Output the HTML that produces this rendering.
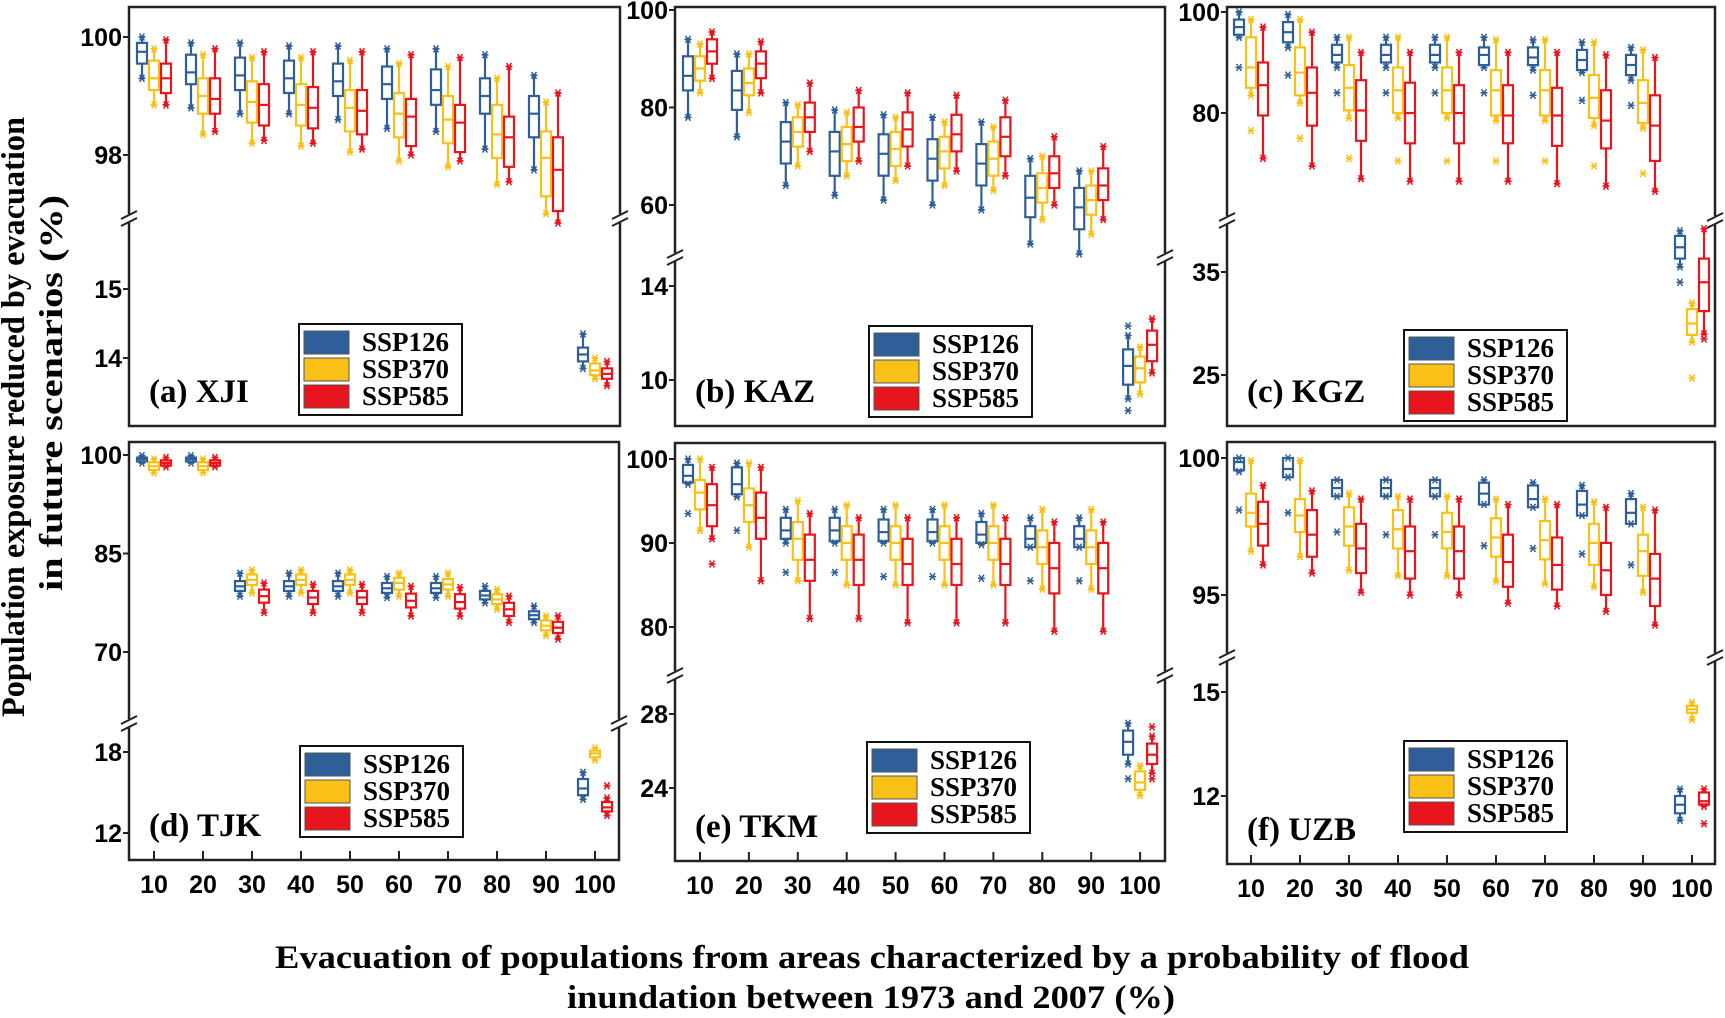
<!DOCTYPE html>
<html><head><meta charset="utf-8">
<style>
html,body{margin:0;padding:0;background:#fff;}
svg{display:block;}
</style></head>
<body>
<svg id="s" xmlns="http://www.w3.org/2000/svg" width="1725" height="1018" viewBox="0 0 1725 1018">
<rect width="1725" height="1018" fill="#fff"/>
<text transform="translate(24,417) rotate(-90)" text-anchor="middle" font-family="Liberation Serif, serif" font-weight="bold" font-size="33" textLength="600" lengthAdjust="spacingAndGlyphs">Population exposure reduced by evacuation</text>
<text transform="translate(62,393) rotate(-90)" text-anchor="middle" font-family="Liberation Serif, serif" font-weight="bold" font-size="33" textLength="396" lengthAdjust="spacingAndGlyphs">in future scenarios (%)</text>
<text x="872" y="968" text-anchor="middle" font-family="Liberation Serif, serif" font-weight="bold" font-size="33" textLength="1194" lengthAdjust="spacingAndGlyphs">Evacuation of populations from areas characterized by a probability of flood</text>
<text x="871" y="1008" text-anchor="middle" font-family="Liberation Serif, serif" font-weight="bold" font-size="33" textLength="608" lengthAdjust="spacingAndGlyphs">inundation between 1973 and 2007 (%)</text>
</svg>
<script>
var C=["#2f5f98","#f9c015","#e8141e"];
var P=[
{L:129,R:620,T:7,B:426,x0:154,dx:49,up:[100,37,98,155],lo:[15,289,14,358],brk:218,yt:[[100,1],[98,1],[15,0],[14,0]],lab:"(a) XJI",lg:[299,324],top:1,
d:[
[[99.3,99.55,99.75,99.9,100],[98.85,99.1,99.3,99.6,99.8],[98.85,99.05,99.3,99.55,99.95]],
[[98.8,99.2,99.4,99.7,99.9],[98.35,98.7,99.0,99.3,99.7],[98.4,98.7,98.95,99.3,99.8]],
[[98.7,99.1,99.35,99.65,99.9],[98.2,98.55,98.9,99.25,99.65],[98.25,98.5,98.85,99.2,99.75]],
[[98.7,99.05,99.3,99.6,99.85],[98.15,98.5,98.85,99.2,99.65],[98.2,98.45,98.8,99.15,99.75]],
[[98.6,99.0,99.25,99.55,99.85],[98.05,98.4,98.8,99.1,99.6],[98.1,98.35,98.75,99.1,99.75]],
[[98.45,98.95,99.2,99.5,99.8],[97.9,98.3,98.7,99.05,99.55],[98.0,98.15,98.65,98.95,99.7]],
[[98.4,98.85,99.1,99.45,99.8],[97.8,98.2,98.6,99.0,99.5],[97.9,98.05,98.55,98.85,99.65]],
[[98.1,98.7,99.0,99.3,99.7],[97.5,97.95,98.35,98.85,99.3],[97.55,97.8,98.3,98.65,99.5]],
[[97.75,98.3,98.7,99.0,99.35],[97.0,97.3,97.95,98.4,98.9],[96.85,97.05,97.75,98.3,99.05]],
[[13.85,13.95,14.05,14.15,14.35],[13.7,13.75,13.82,13.92,14.0],[13.6,13.7,13.77,13.85,13.95]]]},
{L:675,R:1165,T:7,B:426,x0:700,dx:48.9,up:[100,10,60,205],lo:[14,286,10,380],brk:257,yt:[[100,1],[80,1],[60,1],[14,0],[10,0]],lab:"(b) KAZ",lg:[869,326],top:1,
d:[
[[78,83.5,86.5,90.5,94],[83,85.5,88,90.5,93],[86,89,91.5,94,95.5]],
[[74,79.5,83.5,87.5,91],[79,82.5,85,88,91],[83,86,89,91.5,93.5]],
[[64,68.5,73,77,81],[68,72,75,78,80.5],[71,75,78,81,85]],
[[62,66,71,75,79.5],[66,69,72.5,76,79],[69,73,76,80,83.5]],
[[61,66,70.5,74.5,78.5],[65,68,71.5,75,78],[68,72,75.5,79,83]],
[[60,65,69.5,73.5,78],[64,67.5,71,74,77],[67,71,74.5,78.5,82.5]],
[[59,64,68.5,72.5,77],[63,66,69.5,73,76],[66,70,74,78,81.5]],
[[52,57.5,61.5,66,69.5],[57,60.5,63.5,66.5,70],[60,63.5,66.5,70,74]],
[[50,55,59.5,63.5,67],[54,58,61,64,67],[57,61,64,67.5,72]],
[[9.2,9.8,10.6,11.3,11.9,12.3,8.7],[9.4,9.9,10.5,11.0,11.4],[10.3,10.8,11.5,12.1,12.6]]]},
{L:1227,R:1715,T:7,B:426,x0:1251,dx:49,up:[100,12,80,113],lo:[35,272,25,375],brk:220,yt:[[100,1],[80,1],[35,0],[25,0]],lab:"(c) KGZ",lg:[1404,330],top:1,
d:[
[[95,95.5,97,98.5,100,89],[83.5,85,89,95,98.5,76.5],[71,79.5,85.5,90,97]],
[[93,94,96,98,99.5,87.5],[82,83.5,88,93,98.5,75],[69.5,77.5,84,89,96]],
[[89,90,91.5,93.5,95,84],[79,80.5,85,89.5,95,71],[67,74.5,80.5,86.5,92]],
[[89,90,91.5,93.5,95,84],[79,80,84.5,89,95,70.5],[66.5,74,80,86,92]],
[[89,90,91.5,93.5,95,84],[79,80,84.5,89,95,70.5],[66.5,74,80,85.5,92]],
[[89,89.5,91.5,93,95,84],[78.5,79.5,84.5,88.5,94.5,70.5],[66.5,74,79.5,85.5,92]],
[[88.5,89.5,91,93,94.5,83.5],[78.5,79.5,84.5,88.5,94.5,70.5],[66,73.5,79.5,85,92]],
[[88,88.5,90.5,92.5,94,82.5],[77.5,79,83,87.5,94,69.5],[65.5,73,78.5,84.5,91.5]],
[[86.5,87.5,89.5,91.5,93,81.5],[77,78,82,86.5,92.5,68],[64.5,70.5,77.5,83.5,91]],
[[35.5,36.3,37.4,38.5,39,34],[28.2,28.9,30,31.4,32,24.7],[29,31.2,34,36.3,39.2,28.5]]]},
{L:129,R:619,T:442,B:860,x0:154,dx:49,up:[100,455,70,652],lo:[18,752,12,833],brk:723,yt:[[100,1],[85,1],[70,1],[18,0],[12,0]],lab:"(d) TJK",lg:[300,746],
d:[
[[98.8,99,99.4,99.6,99.9],[97.3,97.7,98.3,98.9,99.4],[98.2,98.4,98.8,99.2,99.6]],
[[98.8,99,99.4,99.6,99.9],[97.3,97.7,98.3,98.9,99.4],[98.2,98.4,98.8,99.2,99.6]],
[[78.5,79.3,80,80.8,82],[79,80.2,81,81.8,82.5],[76,77.5,78.5,79.5,80.5]],
[[78.5,79.3,80,80.8,82],[79,80.2,81,81.8,82.5],[76,77.3,78.3,79.3,80.3]],
[[78.5,79.3,80,80.8,82],[79,80.2,81,81.8,82.5],[76,77.3,78.3,79.3,80.3]],
[[78.3,79,79.7,80.5,81.5],[78.5,79.5,80.5,81.3,82],[75.5,76.8,77.8,78.9,80]],
[[78.3,79,79.7,80.5,81.5],[78.5,79.5,80.3,81.1,82],[75.5,76.6,77.6,78.8,79.8]],
[[77.5,78,78.6,79.3,80],[76.5,77.3,78,78.8,79.5],[74.5,75.5,76.5,77.5,78.5]],
[[74.5,75,75.6,76.2,77],[72.5,73.3,74,74.8,75.5],[72,72.9,73.7,74.6,75.5]],
[[14.5,14.8,15.3,16,16.5],[17.4,17.6,17.9,18.1,18.3],[13.3,13.6,13.9,14.3,14.6,15.5]]]},
{L:675,R:1165,T:443,B:861,x0:700,dx:48.9,up:[100,459,80,627],lo:[28,714,24,788],brk:675,yt:[[100,1],[90,1],[80,1],[28,0],[24,0]],lab:"(e) TKM",lg:[867,742],
d:[
[[97,97.2,98,99.3,100,93.5],[91.5,94,96,97.5,100],[90.5,92,94.5,97,99,87.5]],
[[95.5,95.8,97,99,99.5,91.5],[89.5,92.5,94.5,96.5,99.5],[85.5,90.5,93,96,99]],
[[90,90.5,91.5,93,94,86.5],[85.5,88,90.5,92.5,95],[81,85.5,88,91,93.5]],
[[90,90.2,91.5,93,94,86.5],[85,88,90,92,94.5],[81,85,88,91,93]],
[[90,90.2,91.3,92.8,94,86],[85,88,90,92,94.5],[80.5,85,87.5,90.5,93]],
[[90,90.2,91.3,92.8,94,86],[85,88,90,92,94.5],[80.5,85,87.5,90.5,93]],
[[89.8,90,91,92.5,93.5,85.8],[85,88,90,92,94.5],[80.5,85,87.5,90.5,93]],
[[89.5,89.5,90.5,92,93,85.5],[84.5,87.5,89.5,91.5,94],[79.5,84,87,90,92.5]],
[[89.5,89.5,90.5,92,93,85.5],[84.5,87.5,89.5,91.5,94],[79.5,84,87,90,92.5]],
[[25.3,25.8,26.5,27.1,27.5,24.5],[23.6,23.9,24.3,24.9,25.2],[24.8,25.3,25.8,26.4,26.8,27.3,24.5]]]},
{L:1227,R:1715,T:442,B:864,x0:1251,dx:49,up:[100,458,95,595],lo:[15,692,12,796],brk:657,yt:[[100,1],[95,1],[15,0],[12,0]],lab:"(f) UZB",lg:[1404,741],
d:[
[[99.5,99.55,99.85,100,100,98.1],[96.6,97.5,98.0,98.7,99.9],[96.1,96.8,97.6,98.4,99.0]],
[[99.3,99.3,99.6,100,100,98],[96.4,97.3,97.9,98.5,99.9],[95.8,96.4,97.2,98.1,98.8]],
[[98.6,98.6,98.9,99.2,99.2,97.3],[95.9,96.8,97.5,98.2,98.7],[95.1,95.8,96.7,97.6,98.5]],
[[98.6,98.6,98.9,99.2,99.2,97.2],[95.7,96.7,97.4,98.1,98.6],[95,95.6,96.6,97.5,98.5]],
[[98.6,98.6,98.9,99.2,99.2,97.2],[95.7,96.7,97.3,98.0,98.6],[95,95.6,96.6,97.5,98.5]],
[[98.3,98.3,98.7,99.1,99.2,96.8],[95.5,96.4,97.1,97.8,98.5],[94.7,95.3,96.2,97.2,98.3]],
[[98.2,98.2,98.5,99,99.1,96.7],[95.4,96.3,97,97.7,98.5],[94.6,95.2,96.1,97.1,98.3]],
[[97.9,97.9,98.3,98.8,99,96.5],[95.3,96.1,96.9,97.6,98.4],[94.4,95,95.9,96.9,98.2]],
[[97.6,97.6,98,98.5,98.7,96.1],[95.1,95.7,96.6,97.2,98.2],[93.9,94.6,95.6,96.5,98.1]],
[[11.3,11.5,11.75,12,12.2],[14.2,14.4,14.5,14.6,14.7],[11.7,11.75,11.85,12.1,12.2,11.2]]]}
];
var h=[];
function ln(x1,y1,x2,y2,c,w){h.push('<line x1="'+x1.toFixed(1)+'" y1="'+y1.toFixed(1)+'" x2="'+x2.toFixed(1)+'" y2="'+y2.toFixed(1)+'" stroke="'+c+'" stroke-width="'+(w||2.2)+'"/>');}
function star(x,y,c){var r=3.5;ln(x-r,y,x+r,y,c,1.5);ln(x-r*0.7,y-r,x+r*0.7,y+r,c,1.5);ln(x-r*0.7,y+r,x+r*0.7,y-r,c,1.5);}
P.forEach(function(p){
 function Y(v,seg){var s=seg?p.up:p.lo;return s[1]+(v-s[0])*(s[3]-s[1])/(s[2]-s[0]);}
 h.push('<rect x="'+p.L+'" y="'+p.T+'" width="'+(p.R-p.L)+'" height="'+(p.B-p.T)+'" fill="none" stroke="#222" stroke-width="2.5"/>');
 [p.L,p.R].forEach(function(x){h.push('<rect x="'+(x-3)+'" y="'+(p.brk-4)+'" width="6" height="8" fill="#fff"/>');ln(x-8,p.brk+1,x+8,p.brk-7,"#222",2);ln(x-8,p.brk+8,x+8,p.brk,"#222",2);});
 p.yt.forEach(function(t){var y=Y(t[0],t[1]);ln(p.L-6,y,p.L,y,"#222",2);
  h.push('<text x="'+(p.L-7)+'" y="'+(y+9)+'" text-anchor="end" font-family="Liberation Sans, sans-serif" font-weight="bold" font-size="25">'+t[0]+'</text>');});
 if(!p.top){
 for(var i=0;i<10;i++){var x=p.x0+i*p.dx;ln(x,p.B,x,p.B-9,"#222",2);
  h.push('<text x="'+x+'" y="'+(p.B+33)+'" text-anchor="middle" font-family="Liberation Sans, sans-serif" font-weight="bold" font-size="25">'+((i+1)*10)+'</text>');}
 }
 p.d.forEach(function(g,i){var seg=i<9;var cx=p.x0+i*p.dx;
  g.forEach(function(b,s){var x=cx+(s-1)*12,c=C[s],w=5;
   var yl=Y(b[0],seg),q1=Y(b[1],seg),m=Y(b[2],seg),q3=Y(b[3],seg),yh=Y(b[4],seg);
   ln(x,yh,x,q3,c);ln(x,q1,x,yl,c);ln(x-2.5,yh,x+2.5,yh,c);ln(x-2.5,yl,x+2.5,yl,c);
   h.push('<rect x="'+(x-w)+'" y="'+q3.toFixed(1)+'" width="'+(2*w)+'" height="'+Math.max(1,q1-q3).toFixed(1)+'" fill="#fff" stroke="'+c+'" stroke-width="2.2"/>');
   ln(x-w,m,x+w,m,c);
   star(x,yh,c);star(x,yl,c);
   for(var k=5;k<b.length;k++)star(x,Y(b[k],seg),c);
  });});
 h.push('<text x="'+(p.L+20)+'" y="'+(p.B-24)+'" font-family="Liberation Serif, serif" font-weight="bold" font-size="33">'+p.lab+'</text>');
 var lx=p.lg[0],ly=p.lg[1];
 h.push('<rect x="'+lx+'" y="'+ly+'" width="163" height="91" fill="#fff" stroke="#111" stroke-width="2"/>');
 ["SSP126","SSP370","SSP585"].forEach(function(n,j){
  h.push('<rect x="'+(lx+5)+'" y="'+(ly+7+j*27)+'" width="45" height="23" fill="'+C[j]+'" stroke="#555" stroke-width="1"/>');
  h.push('<text x="'+(lx+63)+'" y="'+(ly+27+j*27)+'" font-family="Liberation Serif, serif" font-weight="bold" font-size="27">'+n+'</text>');});
});
document.getElementById("s").insertAdjacentHTML("beforeend",h.join(""));
</script>
</body></html>
